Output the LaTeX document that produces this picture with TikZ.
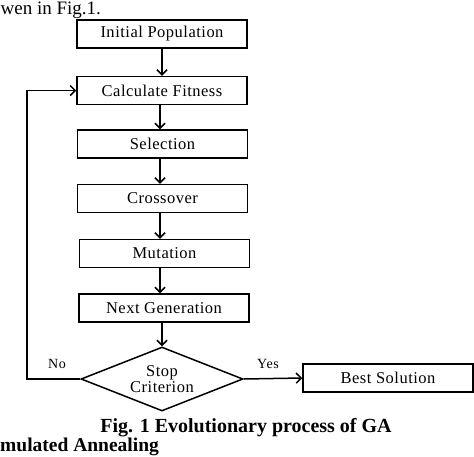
\documentclass[tikz,border=0pt]{standalone}
\usepackage{fontspec}
\setmainfont{Liberation Serif}
\usetikzlibrary{shapes.geometric,arrows.meta}
\begin{document}
\begin{tikzpicture}[x=1pt,y=-1pt,
  box/.style={draw,line width=1.5pt,minimum width=170pt,minimum height=28pt,inner sep=0pt,
    font=\fontsize{16.5}{18}\selectfont\addfontfeatures{LetterSpace=3}},
  dec/.style={draw,diamond,line width=1.5pt,minimum width=162pt,minimum height=64pt,inner sep=0pt,aspect=2.53,align=center,
    font=\fontsize{16.5}{17}\selectfont\addfontfeatures{LetterSpace=3}},
  flow/.style={line width=1.5pt,-{Straight Barb[length=5pt,width=10pt,line width=1.5pt]}},
  lab/.style={font=\fontsize{14}{16}\selectfont\addfontfeatures{LetterSpace=5},inner sep=0pt}]
\useasboundingbox (0,0) rectangle (474,456);
\node[anchor=base west,inner sep=0pt,font=\fontsize{19}{21}\selectfont] (top) at (0.5,14.5) {wen in Fig.1.};
\node[box] (init) at (162,34) {Initial Population};
\node[box] (calc) at (162,90.5) {Calculate Fitness};
\node[box] (sel) at (162.5,144) {Selection};
\node[box] (cross) at (162.5,198.5) {Crossover};
\node[box] (mut) at (164.5,253.5) {Mutation};
\node[box] (next) at (164,308) {Next Generation};
\node[dec] (stop) at (162,379) {Stop\\[-1pt]Criterion};
\node[box] (best) at (388,378) {Best Solution};
\coordinate (loop) at (27,379);
\draw[flow] (init.south) -- (init.south |- calc.north);
\draw[flow] (calc.south -| 160,0) -- (sel.north -| 160,0);
\draw[flow] (sel.south -| 160,0) -- (cross.north -| 160,0);
\draw[flow] (cross.south -| 160,0) -- (mut.north -| 160,0);
\draw[flow] (mut.south -| 160,0) -- (next.north -| 160,0);
\draw[flow] (next.south -| 162,0) -- (stop.north);
\draw[flow] (stop.east) -- (best.west);
\draw[flow] (stop.west) -- (loop) |- (calc.west);
\node[lab] (no) at (57,364) {No};
\node[lab] (yes) at (268,364) {Yes};
\node[anchor=base,inner sep=0pt,font=\fontsize{20}{22}\bfseries] (cap) at (246,432) {Fig. 1 Evolutionary process of GA};
\node[anchor=base west,inner sep=0pt,font=\fontsize{19.5}{22}\bfseries] (sa) at (0,451) {mulated Annealing};
\end{tikzpicture}
\end{document}
